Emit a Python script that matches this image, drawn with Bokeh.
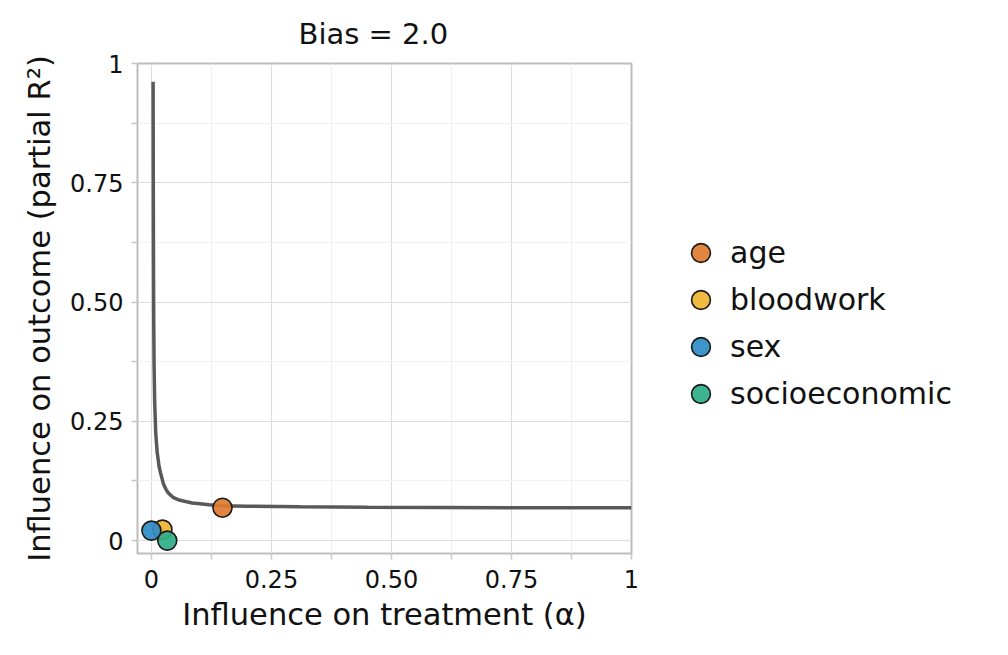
from bokeh.plotting import figure
from bokeh.models import Legend, LegendItem, FixedTicker, Range1d, ColumnDataSource
from bokeh.embed import file_html
from bokeh.resources import INLINE

# Curve
curve_x = [0.0035, 0.0038, 0.0042, 0.0047, 0.0055, 0.0068, 0.009, 0.012, 0.016, 0.019,
           0.025, 0.030, 0.035, 0.046, 0.058, 0.071, 0.085, 0.096, 0.12, 0.144,
           0.20, 0.31, 0.45, 0.60, 0.80, 1.0]
curve_y = [0.962, 0.80, 0.62, 0.48, 0.37, 0.29, 0.225, 0.185, 0.155, 0.142,
           0.119, 0.108, 0.100, 0.090, 0.085, 0.082, 0.079, 0.078, 0.075, 0.073,
           0.072, 0.071, 0.070, 0.0695, 0.069, 0.069]

# Covariates
names = ["age", "bloodwork", "sex", "socioeconomic"]
alpha_vals = [0.148, 0.023, 0.0, 0.033]
r2_vals = [0.069, 0.023, 0.021, 0.0]
colors = ["#E07B30", "#EFB432", "#2F8BC6", "#2EAE88"]

ticks = [0, 0.25, 0.5, 0.75, 1]
tick_labels = ["0", "0.25", "0.50", "0.75", "1"]
minor = [0.125, 0.375, 0.625, 0.875]

FONT = "DejaVu Sans"

p = figure(frame_width=494, frame_height=490, output_backend="svg", toolbar_location=None,
           x_range=Range1d(-0.029, 1.0), y_range=Range1d(-0.027, 1.0),
           min_border_left=137, min_border_right=10, min_border_top=63, min_border_bottom=90,
           title="Bias = 2.0")
p.title.align = "left"
p.title.offset = 161
p.title.standoff = 26
p.title.text_font = FONT
p.title.text_font_size = "29px"
p.title.text_font_style = "normal"
p.title.text_color = "#111111"

p.outline_line_color = "#bdbdbd"
p.outline_line_width = 2
p.background_fill_color = "white"
p.border_fill_color = "white"

for ax in (p.xaxis[0], p.yaxis[0]):
    ax.ticker = FixedTicker(ticks=ticks + minor, minor_ticks=[])
    ax.major_label_overrides = {**{t: l for t, l in zip(ticks, tick_labels)}, **{m: "" for m in minor}}
    ax.axis_line_color = None
    ax.major_tick_out = 6
    ax.major_tick_in = 0
    ax.major_tick_line_color = "#c8c8c8"
    ax.major_tick_line_width = 1.5
    ax.minor_tick_line_color = None
    ax.major_label_text_font = FONT
    ax.major_label_text_font_size = "24px"
    ax.major_label_text_color = "#111111"
    ax.axis_label_text_font = FONT
    ax.axis_label_text_font_size = "30.5px"
    ax.axis_label_text_font_style = "normal"
    ax.axis_label_text_color = "#111111"

p.xaxis.axis_label = "Influence on treatment (α)"
p.yaxis.axis_label = "Influence on outcome (partial R²)"
p.xaxis.major_label_standoff = 10
p.yaxis.major_label_standoff = 8
p.xaxis.axis_label_standoff = 6
p.yaxis.axis_label_standoff = 10

p.xgrid.ticker = FixedTicker(ticks=ticks, minor_ticks=minor)
p.ygrid.ticker = FixedTicker(ticks=ticks, minor_ticks=minor)
p.xgrid.grid_line_color = "#dddddd"
p.ygrid.grid_line_color = "#dddddd"
p.xgrid.grid_line_width = 1.2
p.ygrid.grid_line_width = 1.2
p.xgrid.minor_grid_line_color = "#f1f1f1"
p.ygrid.minor_grid_line_color = "#f1f1f1"
p.xgrid.minor_grid_line_width = 1.2
p.ygrid.minor_grid_line_width = 1.2

p.line(curve_x, curve_y, line_color="#505050", line_width=3.5, line_alpha=0.95)

items = []
for n, a, r, c in zip(names, alpha_vals, r2_vals, colors):
    src = ColumnDataSource(dict(x=[a], y=[r]))
    g = p.scatter("x", "y", source=src, size=19, fill_color=c, fill_alpha=0.92,
                  line_color="#1a1a1a", line_width=1.6)
    items.append(LegendItem(label=n, renderers=[g]))

leg = Legend(items=items, location=(46, 136), orientation="vertical",
             glyph_width=47, glyph_height=47, label_height=47, spacing=0,
             label_standoff=6, padding=0, margin=0,
             border_line_color=None, background_fill_alpha=0,
             label_text_font=FONT, label_text_font_size="30px", label_text_color="#111111")
p.add_layout(leg, "right")

open("out.html", "w").write(file_html(p, INLINE))
